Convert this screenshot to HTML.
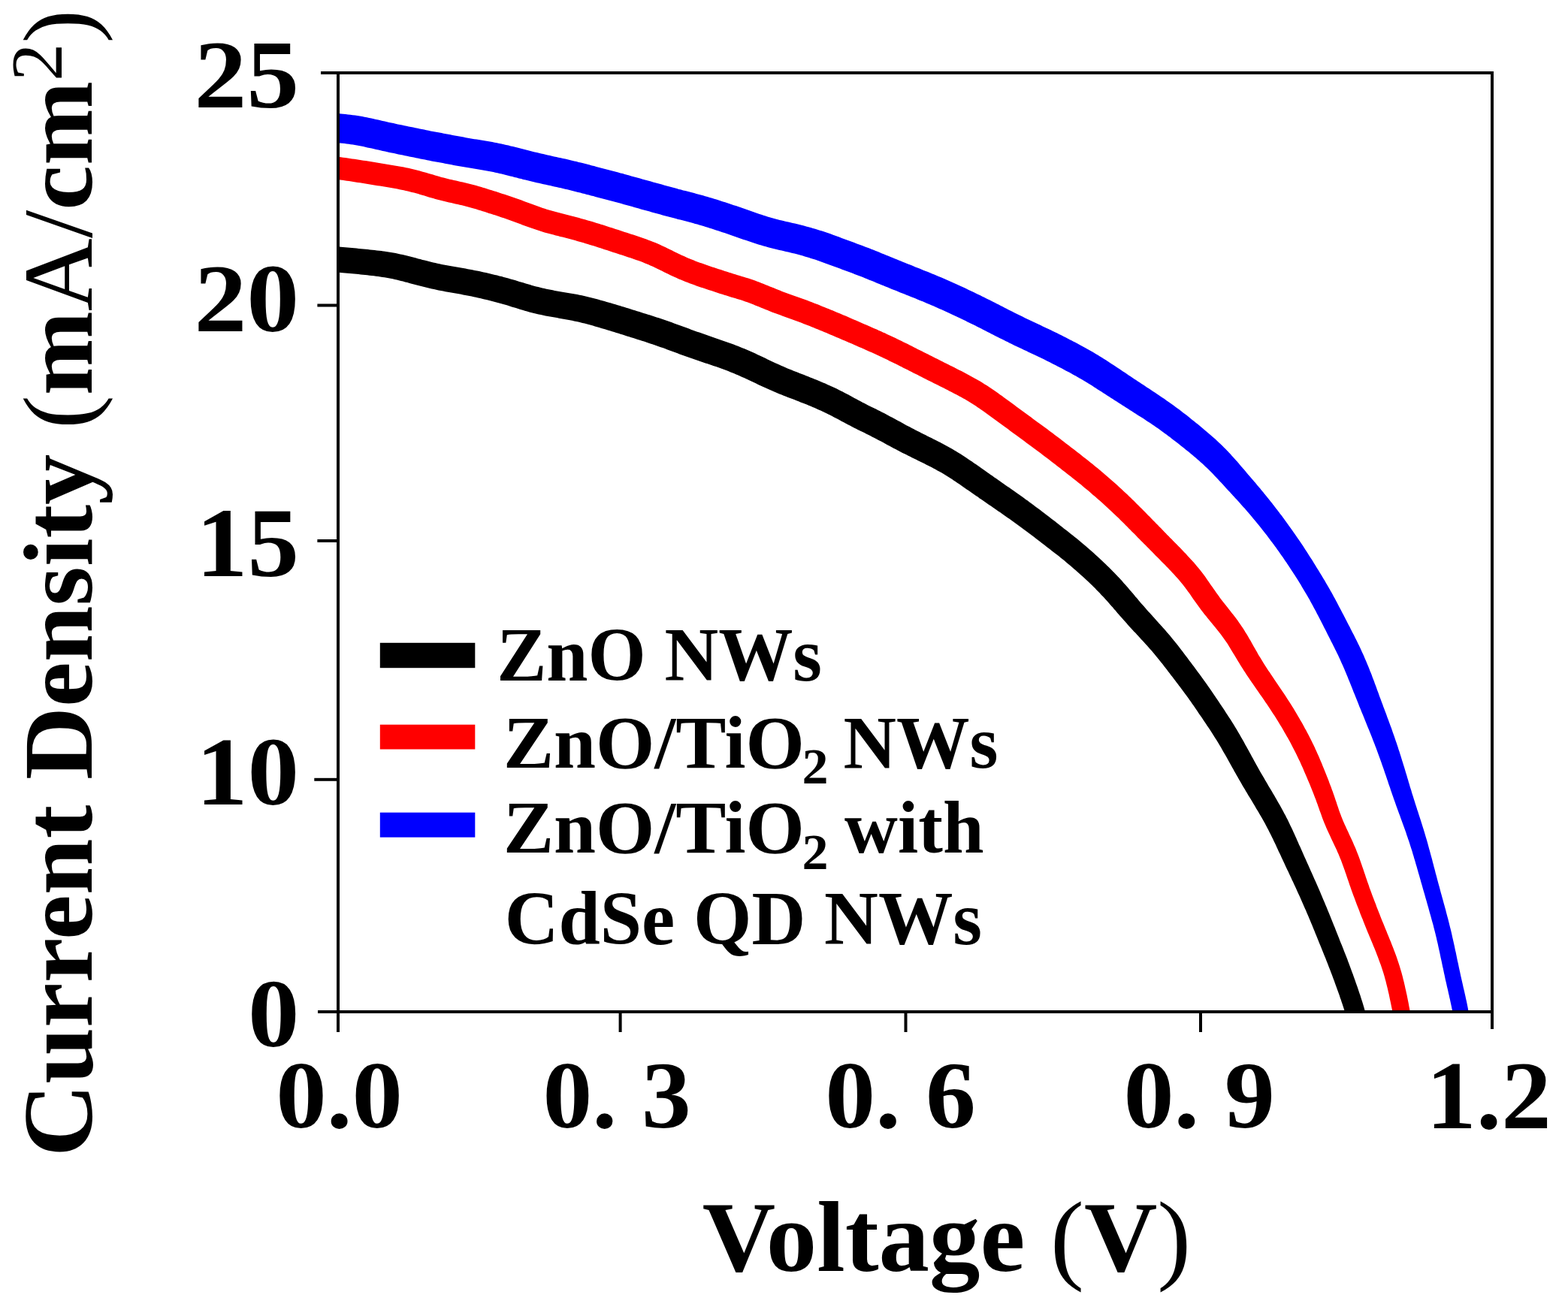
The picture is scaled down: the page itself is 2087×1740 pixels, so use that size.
<!DOCTYPE html>
<html><head><meta charset="utf-8"><style>
html,body{margin:0;padding:0;background:#fff;}
body{width:2087px;height:1740px;overflow:hidden;}
svg{display:block;font-family:"Liberation Serif","Times New Roman",serif;}
</style></head><body>
<svg width="2087" height="1740" viewBox="0 0 2087 1740">
<rect width="2087" height="1740" fill="#fff"/>
<rect x="448" y="95" width="4" height="1279" fill="#000"/>
<rect x="1984" y="95" width="4" height="1275" fill="#000"/>
<rect x="427" y="95" width="1561" height="4" fill="#000"/>
<rect x="423" y="1345" width="1565" height="4" fill="#000"/>
<rect x="422.4" y="404.5" width="29.6" height="4" fill="#000"/>
<rect x="422.4" y="718.0" width="29.6" height="4" fill="#000"/>
<rect x="418.3" y="1035.8" width="33.7" height="4" fill="#000"/>
<rect x="823.6" y="1345" width="4" height="29" fill="#000"/>
<rect x="1203.5" y="1345" width="4" height="29" fill="#000"/>
<rect x="1596.0" y="1345" width="4" height="29" fill="#000"/>
<defs><clipPath id="pc"><rect x="452" y="99" width="1532" height="1246"/></clipPath></defs>
<g clip-path="url(#pc)">
<polygon points="423.7,360.4 426.7,360.7 429.7,360.9 432.6,361.2 435.6,361.4 438.6,361.6 441.6,361.9 444.5,362.1 447.5,362.4 450.5,362.6 453.4,362.9 456.4,363.2 459.3,363.4 462.3,363.7 465.3,364.0 468.2,364.3 471.2,364.5 474.2,364.8 477.1,365.1 480.1,365.4 483.0,365.7 486.0,366.0 488.9,366.3 491.8,366.7 494.8,367.0 497.6,367.3 500.5,367.7 503.3,368.1 506.2,368.4 509.0,368.9 511.7,369.3 514.5,369.8 517.2,370.3 519.9,370.8 522.7,371.3 525.4,371.9 528.1,372.6 530.9,373.2 533.6,373.9 536.4,374.6 539.2,375.4 542.1,376.1 545.0,376.9 547.8,377.7 550.8,378.5 553.7,379.2 556.6,380.0 559.6,380.8 562.6,381.5 565.6,382.3 568.6,383.0 571.6,383.7 574.6,384.4 577.6,385.1 580.7,385.7 583.7,386.4 586.8,387.0 589.8,387.6 592.8,388.2 595.9,388.7 598.9,389.3 601.9,389.8 604.8,390.3 607.8,390.8 610.7,391.3 613.6,391.8 616.4,392.4 619.3,392.9 622.1,393.4 624.9,394.0 627.7,394.6 630.5,395.2 633.3,395.8 636.2,396.4 639.0,397.1 641.8,397.7 644.7,398.4 647.5,399.1 650.4,399.8 653.2,400.5 656.0,401.2 658.8,402.0 661.6,402.7 664.4,403.4 667.1,404.2 669.9,405.0 672.7,405.8 675.4,406.6 678.2,407.5 681.0,408.4 683.9,409.2 686.7,410.1 689.6,411.0 692.6,411.9 695.5,412.8 698.5,413.7 701.5,414.5 704.5,415.4 707.6,416.2 710.7,417.0 713.8,417.7 716.8,418.4 719.9,419.1 723.0,419.8 726.1,420.4 729.1,421.0 732.2,421.5 735.2,422.1 738.2,422.6 741.2,423.1 744.2,423.7 747.1,424.2 750.0,424.7 752.9,425.2 755.8,425.7 758.6,426.2 761.4,426.8 764.2,427.4 767.0,428.0 769.7,428.6 772.5,429.2 775.2,429.9 778.0,430.6 780.7,431.3 783.5,432.0 786.3,432.8 789.1,433.6 791.9,434.4 794.7,435.2 797.5,436.0 800.4,436.9 803.2,437.7 806.0,438.6 808.9,439.4 811.7,440.3 814.6,441.2 817.4,442.0 820.2,442.9 823.1,443.8 825.9,444.7 828.7,445.6 831.6,446.5 834.4,447.4 837.3,448.3 840.1,449.2 843.0,450.1 845.9,451.0 848.7,451.9 851.5,452.8 854.4,453.7 857.2,454.6 860.0,455.5 862.8,456.5 865.6,457.4 868.3,458.3 871.1,459.3 873.9,460.2 876.6,461.2 879.4,462.2 882.1,463.1 884.9,464.1 887.7,465.2 890.5,466.2 893.3,467.2 896.1,468.3 898.9,469.3 901.7,470.3 904.5,471.4 907.4,472.4 910.3,473.5 913.1,474.5 916.0,475.5 918.9,476.5 921.8,477.5 924.6,478.5 927.5,479.5 930.4,480.5 933.2,481.4 936.1,482.4 938.9,483.4 941.8,484.3 944.6,485.3 947.4,486.2 950.1,487.2 952.9,488.1 955.7,489.1 958.4,490.1 961.1,491.1 963.9,492.1 966.6,493.1 969.2,494.1 971.9,495.2 974.6,496.3 977.2,497.3 979.9,498.4 982.5,499.6 985.1,500.7 987.8,501.9 990.4,503.1 993.0,504.3 995.7,505.5 998.3,506.7 1001.0,508.0 1003.7,509.3 1006.4,510.6 1009.1,511.9 1011.9,513.2 1014.7,514.5 1017.5,515.8 1020.3,517.0 1023.1,518.3 1026.0,519.6 1028.8,520.8 1031.7,522.0 1034.5,523.2 1037.4,524.4 1040.3,525.5 1043.1,526.7 1045.9,527.8 1048.8,528.9 1051.6,530.0 1054.4,531.1 1057.2,532.1 1060.0,533.2 1062.8,534.3 1065.5,535.4 1068.3,536.5 1071.0,537.5 1073.7,538.6 1076.4,539.7 1079.1,540.8 1081.7,542.0 1084.4,543.1 1087.0,544.2 1089.6,545.4 1092.2,546.6 1094.8,547.8 1097.4,549.0 1100.0,550.2 1102.5,551.5 1105.1,552.7 1107.6,554.1 1110.1,555.4 1112.7,556.7 1115.3,558.1 1117.9,559.5 1120.5,560.9 1123.1,562.3 1125.8,563.8 1128.5,565.2 1131.2,566.6 1133.9,568.0 1136.7,569.4 1139.4,570.8 1142.1,572.2 1144.8,573.5 1147.5,574.8 1150.2,576.1 1152.9,577.4 1155.5,578.7 1158.1,580.1 1160.7,581.4 1163.3,582.7 1165.8,584.0 1168.4,585.4 1171.0,586.7 1173.6,588.1 1176.2,589.5 1178.8,590.9 1181.4,592.4 1184.1,593.8 1186.7,595.3 1189.4,596.7 1192.1,598.1 1194.8,599.5 1197.6,601.0 1200.3,602.4 1203.0,603.8 1205.8,605.1 1208.5,606.5 1211.2,607.8 1213.9,609.2 1216.6,610.5 1219.3,611.8 1222.0,613.2 1224.7,614.5 1227.3,615.8 1230.0,617.1 1232.6,618.4 1235.2,619.7 1237.8,621.0 1240.3,622.3 1242.9,623.7 1245.4,625.0 1247.8,626.4 1250.3,627.7 1252.7,629.1 1255.2,630.6 1257.6,632.0 1260.0,633.5 1262.4,635.0 1264.8,636.6 1267.2,638.1 1269.6,639.7 1272.0,641.3 1274.4,643.0 1276.9,644.6 1279.3,646.3 1281.7,648.0 1284.2,649.7 1286.7,651.4 1289.1,653.1 1291.6,654.8 1294.0,656.5 1296.5,658.2 1299.0,659.9 1301.5,661.6 1303.9,663.4 1306.4,665.1 1308.9,666.8 1311.4,668.5 1313.8,670.2 1316.3,671.9 1318.8,673.6 1321.2,675.3 1323.7,677.0 1326.2,678.7 1328.6,680.4 1331.1,682.1 1333.5,683.8 1335.9,685.5 1338.4,687.2 1340.8,688.9 1343.2,690.6 1345.6,692.3 1348.0,694.0 1350.4,695.7 1352.8,697.5 1355.2,699.2 1357.6,700.9 1360.0,702.7 1362.3,704.4 1364.7,706.2 1367.1,708.0 1369.4,709.7 1371.8,711.5 1374.1,713.3 1376.5,715.1 1378.9,717.0 1381.2,718.8 1383.6,720.6 1386.0,722.4 1388.4,724.2 1390.7,726.1 1393.1,727.9 1395.5,729.7 1397.8,731.5 1400.2,733.4 1402.5,735.2 1404.8,737.0 1407.2,738.8 1409.5,740.6 1411.7,742.5 1414.0,744.3 1416.3,746.1 1418.5,748.0 1420.8,749.9 1423.0,751.7 1425.2,753.6 1427.4,755.5 1429.6,757.4 1431.8,759.3 1434.0,761.3 1436.2,763.2 1438.4,765.2 1440.5,767.1 1442.7,769.1 1444.8,771.1 1447.0,773.1 1449.1,775.1 1451.2,777.1 1453.3,779.1 1455.3,781.1 1457.4,783.1 1459.4,785.2 1461.4,787.2 1463.5,789.3 1465.4,791.4 1467.4,793.5 1469.4,795.6 1471.3,797.7 1473.2,799.8 1475.2,802.0 1477.1,804.2 1479.0,806.4 1481.0,808.6 1482.9,810.9 1484.9,813.1 1486.8,815.4 1488.8,817.7 1490.8,820.0 1492.8,822.3 1494.8,824.6 1496.8,826.8 1498.9,829.1 1500.9,831.4 1502.9,833.7 1505.0,835.9 1507.1,838.2 1509.1,840.4 1511.2,842.6 1513.2,844.8 1515.3,847.0 1517.3,849.2 1519.3,851.4 1521.3,853.6 1523.3,855.8 1525.3,857.9 1527.2,860.1 1529.1,862.3 1531.1,864.4 1533.0,866.6 1534.8,868.8 1536.7,871.0 1538.5,873.2 1540.4,875.5 1542.2,877.7 1544.0,880.0 1545.8,882.3 1547.7,884.6 1549.5,886.9 1551.3,889.3 1553.1,891.6 1554.9,894.0 1556.7,896.3 1558.5,898.7 1560.4,901.1 1562.2,903.5 1564.0,905.8 1565.8,908.2 1567.6,910.6 1569.4,913.0 1571.2,915.3 1573.0,917.7 1574.7,920.0 1576.5,922.4 1578.2,924.8 1579.9,927.1 1581.7,929.5 1583.4,931.9 1585.1,934.3 1586.7,936.7 1588.4,939.1 1590.1,941.5 1591.8,944.0 1593.5,946.4 1595.1,948.9 1596.8,951.4 1598.5,953.8 1600.2,956.3 1601.8,958.8 1603.5,961.2 1605.2,963.7 1606.8,966.2 1608.4,968.6 1610.1,971.1 1611.7,973.5 1613.3,976.0 1614.9,978.4 1616.4,980.9 1618.0,983.4 1619.5,985.8 1621.0,988.3 1622.5,990.8 1624.0,993.3 1625.5,995.8 1627.0,998.4 1628.4,1000.9 1629.9,1003.5 1631.4,1006.0 1632.8,1008.6 1634.3,1011.2 1635.7,1013.8 1637.2,1016.4 1638.6,1019.0 1640.1,1021.7 1641.6,1024.3 1643.0,1026.9 1644.5,1029.6 1646.0,1032.2 1647.5,1034.8 1649.0,1037.5 1650.5,1040.1 1652.1,1042.8 1653.6,1045.4 1655.1,1048.0 1656.7,1050.6 1658.2,1053.2 1659.8,1055.8 1661.3,1058.4 1662.9,1061.0 1664.5,1063.6 1666.0,1066.1 1667.6,1068.7 1669.1,1071.3 1670.6,1073.8 1672.1,1076.4 1673.7,1078.9 1675.2,1081.4 1676.6,1084.0 1678.1,1086.5 1679.6,1089.0 1681.0,1091.6 1682.4,1094.1 1683.8,1096.6 1685.2,1099.2 1686.5,1101.7 1687.9,1104.3 1689.2,1106.9 1690.5,1109.4 1691.8,1112.0 1693.1,1114.7 1694.4,1117.3 1695.6,1119.9 1696.9,1122.6 1698.2,1125.3 1699.4,1128.0 1700.7,1130.7 1701.9,1133.4 1703.2,1136.1 1704.5,1138.8 1705.7,1141.5 1707.0,1144.3 1708.3,1147.0 1709.6,1149.7 1710.8,1152.5 1712.1,1155.2 1713.4,1157.9 1714.7,1160.6 1715.9,1163.3 1717.2,1166.0 1718.5,1168.7 1719.7,1171.4 1721.0,1174.1 1722.3,1176.9 1723.5,1179.6 1724.8,1182.3 1726.0,1185.0 1727.2,1187.7 1728.5,1190.4 1729.7,1193.1 1730.9,1195.8 1732.1,1198.5 1733.3,1201.2 1734.5,1204.0 1735.7,1206.7 1736.9,1209.4 1738.1,1212.1 1739.3,1214.9 1740.4,1217.6 1741.6,1220.3 1742.7,1223.1 1743.9,1225.8 1745.0,1228.6 1746.2,1231.3 1747.3,1234.1 1748.4,1236.8 1749.6,1239.6 1750.7,1242.4 1751.8,1245.1 1753.0,1247.9 1754.1,1250.7 1755.2,1253.5 1756.3,1256.2 1757.5,1259.0 1758.6,1261.8 1759.7,1264.6 1760.8,1267.3 1761.9,1270.1 1763.1,1272.9 1764.2,1275.6 1765.3,1278.4 1766.4,1281.2 1767.5,1283.9 1768.5,1286.7 1769.6,1289.5 1770.7,1292.2 1771.7,1295.0 1772.8,1297.8 1773.8,1300.5 1774.8,1303.3 1775.9,1306.1 1776.9,1308.9 1777.9,1311.7 1778.9,1314.4 1779.9,1317.2 1780.9,1320.0 1781.9,1322.8 1782.9,1325.6 1783.8,1328.4 1784.8,1331.1 1785.7,1333.9 1786.6,1336.6 1787.5,1339.3 1788.4,1341.9 1789.2,1344.6 1790.0,1347.2 1790.8,1349.8 1791.5,1352.4 1792.2,1355.0 1792.8,1357.5 1793.5,1360.1 1794.1,1362.7 1794.7,1365.3 1795.3,1367.9 1820.7,1362.1 1820.1,1359.4 1819.4,1356.7 1818.8,1353.9 1818.1,1351.2 1817.4,1348.4 1816.7,1345.6 1815.9,1342.7 1815.1,1339.9 1814.2,1337.0 1813.3,1334.1 1812.4,1331.3 1811.5,1328.4 1810.6,1325.5 1809.6,1322.7 1808.6,1319.8 1807.7,1317.0 1806.7,1314.1 1805.7,1311.3 1804.7,1308.5 1803.7,1305.6 1802.7,1302.8 1801.7,1299.9 1800.7,1297.1 1799.6,1294.2 1798.6,1291.4 1797.5,1288.5 1796.5,1285.7 1795.4,1282.8 1794.3,1280.0 1793.3,1277.1 1792.2,1274.3 1791.1,1271.5 1790.0,1268.7 1788.9,1265.9 1787.8,1263.1 1786.7,1260.3 1785.6,1257.5 1784.4,1254.7 1783.3,1251.9 1782.2,1249.1 1781.1,1246.3 1780.0,1243.5 1778.9,1240.7 1777.8,1237.9 1776.7,1235.1 1775.5,1232.3 1774.4,1229.5 1773.3,1226.7 1772.2,1223.9 1771.0,1221.1 1769.9,1218.3 1768.8,1215.5 1767.6,1212.7 1766.5,1209.9 1765.3,1207.1 1764.2,1204.4 1763.0,1201.6 1761.8,1198.8 1760.6,1196.0 1759.5,1193.2 1758.3,1190.4 1757.1,1187.6 1755.9,1184.8 1754.7,1182.1 1753.5,1179.3 1752.3,1176.5 1751.1,1173.7 1749.8,1171.0 1748.6,1168.2 1747.4,1165.4 1746.2,1162.7 1744.9,1159.9 1743.7,1157.2 1742.5,1154.4 1741.3,1151.7 1740.0,1149.0 1738.8,1146.2 1737.6,1143.5 1736.3,1140.8 1735.1,1138.0 1733.9,1135.3 1732.7,1132.6 1731.5,1129.8 1730.3,1127.1 1729.0,1124.4 1727.8,1121.6 1726.6,1118.9 1725.4,1116.1 1724.1,1113.3 1722.9,1110.6 1721.6,1107.8 1720.4,1105.0 1719.1,1102.2 1717.7,1099.5 1716.4,1096.7 1715.1,1093.9 1713.7,1091.1 1712.3,1088.4 1710.9,1085.6 1709.4,1082.9 1707.9,1080.1 1706.5,1077.4 1705.0,1074.7 1703.5,1072.0 1702.0,1069.4 1700.4,1066.7 1698.9,1064.1 1697.4,1061.5 1695.9,1058.8 1694.3,1056.2 1692.8,1053.6 1691.3,1051.1 1689.7,1048.5 1688.2,1045.9 1686.7,1043.3 1685.2,1040.8 1683.7,1038.2 1682.2,1035.6 1680.7,1033.1 1679.2,1030.5 1677.7,1028.0 1676.3,1025.4 1674.8,1022.8 1673.4,1020.2 1672.0,1017.7 1670.5,1015.1 1669.1,1012.5 1667.7,1009.8 1666.2,1007.2 1664.8,1004.6 1663.4,1002.0 1661.9,999.3 1660.5,996.7 1659.0,994.0 1657.5,991.4 1656.1,988.7 1654.6,986.0 1653.1,983.4 1651.5,980.7 1650.0,978.1 1648.5,975.4 1646.9,972.8 1645.3,970.1 1643.7,967.5 1642.1,964.8 1640.5,962.2 1638.8,959.6 1637.2,957.0 1635.5,954.5 1633.9,951.9 1632.2,949.4 1630.5,946.8 1628.9,944.3 1627.2,941.8 1625.5,939.3 1623.8,936.8 1622.2,934.3 1620.5,931.8 1618.8,929.3 1617.1,926.7 1615.4,924.2 1613.7,921.7 1612.0,919.2 1610.3,916.7 1608.5,914.2 1606.8,911.7 1605.0,909.2 1603.2,906.7 1601.4,904.2 1599.6,901.7 1597.8,899.2 1596.0,896.8 1594.2,894.4 1592.4,891.9 1590.6,889.5 1588.8,887.1 1587.0,884.7 1585.2,882.3 1583.4,879.9 1581.6,877.5 1579.8,875.1 1578.0,872.7 1576.1,870.2 1574.3,867.8 1572.5,865.4 1570.6,863.0 1568.7,860.5 1566.8,858.1 1564.9,855.7 1562.9,853.3 1561.0,850.9 1559.0,848.5 1557.0,846.1 1555.0,843.7 1553.0,841.4 1551.0,839.1 1548.9,836.8 1546.9,834.5 1544.9,832.2 1542.8,829.9 1540.8,827.7 1538.8,825.5 1536.8,823.3 1534.8,821.0 1532.8,818.8 1530.8,816.6 1528.8,814.4 1526.8,812.2 1524.9,810.0 1523.0,807.8 1521.0,805.6 1519.1,803.4 1517.2,801.2 1515.3,798.9 1513.4,796.6 1511.4,794.4 1509.5,792.1 1507.6,789.8 1505.6,787.5 1503.6,785.2 1501.6,782.8 1499.6,780.5 1497.6,778.2 1495.5,775.9 1493.5,773.6 1491.4,771.3 1489.3,769.0 1487.1,766.7 1485.0,764.4 1482.8,762.2 1480.6,760.0 1478.4,757.8 1476.2,755.6 1474.0,753.4 1471.8,751.3 1469.6,749.2 1467.3,747.0 1465.1,744.9 1462.8,742.8 1460.6,740.8 1458.3,738.7 1456.0,736.6 1453.7,734.6 1451.4,732.5 1449.1,730.5 1446.8,728.5 1444.5,726.5 1442.1,724.5 1439.7,722.5 1437.4,720.5 1435.0,718.6 1432.6,716.6 1430.2,714.7 1427.9,712.8 1425.5,710.9 1423.1,709.0 1420.7,707.1 1418.3,705.2 1415.9,703.4 1413.6,701.5 1411.2,699.7 1408.8,697.8 1406.5,696.0 1404.1,694.1 1401.7,692.3 1399.3,690.4 1396.9,688.6 1394.6,686.7 1392.2,684.9 1389.7,683.0 1387.3,681.2 1384.9,679.3 1382.5,677.5 1380.0,675.7 1377.6,673.9 1375.1,672.0 1372.7,670.2 1370.2,668.4 1367.8,666.6 1365.3,664.9 1362.8,663.1 1360.4,661.3 1357.9,659.6 1355.4,657.8 1352.9,656.1 1350.5,654.3 1348.0,652.6 1345.5,650.8 1343.1,649.1 1340.6,647.4 1338.1,645.7 1335.7,643.9 1333.2,642.2 1330.8,640.5 1328.3,638.8 1325.9,637.1 1323.4,635.4 1320.9,633.6 1318.5,631.9 1316.1,630.2 1313.6,628.5 1311.2,626.8 1308.7,625.0 1306.2,623.3 1303.8,621.6 1301.3,619.8 1298.8,618.1 1296.3,616.4 1293.8,614.6 1291.3,612.9 1288.7,611.2 1286.2,609.4 1283.6,607.7 1280.9,606.0 1278.3,604.3 1275.6,602.7 1272.9,601.0 1270.2,599.4 1267.5,597.8 1264.7,596.2 1262.0,594.7 1259.2,593.2 1256.5,591.7 1253.7,590.3 1251.0,588.8 1248.3,587.4 1245.5,586.1 1242.8,584.7 1240.1,583.3 1237.4,582.0 1234.7,580.7 1232.1,579.3 1229.4,578.0 1226.8,576.7 1224.1,575.3 1221.5,574.0 1218.9,572.7 1216.3,571.3 1213.7,570.0 1211.1,568.6 1208.5,567.2 1205.9,565.9 1203.4,564.5 1200.8,563.0 1198.2,561.6 1195.5,560.2 1192.9,558.7 1190.2,557.3 1187.5,555.8 1184.8,554.4 1182.1,552.9 1179.4,551.5 1176.7,550.1 1173.9,548.7 1171.2,547.3 1168.5,546.0 1165.8,544.6 1163.1,543.3 1160.4,542.0 1157.8,540.7 1155.2,539.4 1152.6,538.1 1150.1,536.8 1147.5,535.4 1145.0,534.1 1142.4,532.7 1139.8,531.3 1137.2,529.9 1134.6,528.5 1131.9,527.0 1129.3,525.6 1126.6,524.2 1123.8,522.7 1121.1,521.3 1118.3,519.9 1115.5,518.5 1112.7,517.1 1109.8,515.8 1107.0,514.5 1104.2,513.2 1101.3,511.9 1098.4,510.6 1095.6,509.4 1092.7,508.2 1089.9,507.0 1087.0,505.8 1084.2,504.7 1081.3,503.5 1078.5,502.4 1075.7,501.3 1072.9,500.2 1070.1,499.1 1067.3,498.0 1064.5,496.9 1061.7,495.8 1059.0,494.8 1056.2,493.7 1053.5,492.6 1050.8,491.5 1048.1,490.4 1045.5,489.3 1042.8,488.1 1040.2,487.0 1037.6,485.8 1034.9,484.6 1032.3,483.4 1029.7,482.2 1027.0,481.0 1024.4,479.7 1021.7,478.4 1019.0,477.1 1016.3,475.8 1013.6,474.5 1010.8,473.2 1008.0,471.9 1005.2,470.6 1002.4,469.3 999.5,468.0 996.7,466.8 993.8,465.6 990.9,464.3 988.0,463.2 985.1,462.0 982.2,460.8 979.3,459.7 976.4,458.6 973.5,457.5 970.6,456.5 967.7,455.4 964.8,454.4 961.9,453.4 959.0,452.4 956.2,451.4 953.3,450.4 950.5,449.4 947.6,448.4 944.8,447.5 942.0,446.5 939.2,445.6 936.4,444.6 933.6,443.6 930.8,442.6 928.0,441.7 925.2,440.7 922.5,439.7 919.7,438.7 916.9,437.6 914.1,436.6 911.3,435.6 908.5,434.5 905.7,433.5 902.9,432.5 900.0,431.4 897.2,430.4 894.3,429.3 891.4,428.3 888.5,427.3 885.6,426.3 882.7,425.3 879.8,424.3 876.9,423.3 874.0,422.4 871.1,421.5 868.2,420.5 865.3,419.6 862.4,418.7 859.5,417.8 856.6,416.9 853.8,416.0 850.9,415.1 848.0,414.2 845.2,413.3 842.3,412.4 839.4,411.5 836.5,410.6 833.6,409.7 830.8,408.8 827.9,407.9 825.0,407.1 822.1,406.2 819.2,405.3 816.3,404.5 813.3,403.6 810.4,402.7 807.5,401.9 804.6,401.0 801.6,400.2 798.7,399.4 795.7,398.5 792.7,397.7 789.7,396.9 786.7,396.2 783.6,395.4 780.6,394.7 777.5,394.0 774.4,393.3 771.3,392.7 768.3,392.1 765.2,391.5 762.2,390.9 759.1,390.4 756.1,389.9 753.1,389.4 750.1,388.9 747.2,388.4 744.3,387.9 741.4,387.4 738.5,386.9 735.7,386.3 732.9,385.8 730.1,385.2 727.3,384.7 724.5,384.1 721.8,383.5 719.1,382.8 716.3,382.1 713.6,381.4 710.9,380.7 708.1,379.9 705.4,379.1 702.6,378.3 699.8,377.5 697.0,376.6 694.2,375.7 691.3,374.9 688.4,374.0 685.5,373.1 682.5,372.2 679.6,371.4 676.6,370.5 673.6,369.7 670.6,368.9 667.6,368.1 664.6,367.4 661.7,366.6 658.7,365.9 655.7,365.2 652.8,364.5 649.8,363.8 646.8,363.1 643.8,362.4 640.8,361.8 637.8,361.1 634.8,360.5 631.7,359.9 628.7,359.3 625.7,358.7 622.6,358.2 619.6,357.6 616.6,357.1 613.6,356.6 610.7,356.1 607.8,355.6 604.9,355.1 602.0,354.6 599.1,354.1 596.3,353.6 593.5,353.0 590.7,352.5 587.8,351.9 585.0,351.3 582.2,350.7 579.4,350.0 576.6,349.4 573.7,348.7 570.9,348.0 568.1,347.3 565.2,346.6 562.4,345.9 559.5,345.1 556.7,344.4 553.8,343.6 550.9,342.8 547.9,342.1 545.0,341.3 542.0,340.6 538.9,339.8 535.9,339.1 532.8,338.4 529.7,337.7 526.6,337.1 523.5,336.5 520.3,336.0 517.2,335.5 514.1,335.0 510.9,334.5 507.8,334.1 504.7,333.7 501.7,333.4 498.6,333.0 495.6,332.7 492.5,332.4 489.5,332.1 486.5,331.8 483.5,331.5 480.5,331.2 477.5,330.9 474.4,330.6 471.4,330.3 468.4,330.0 465.4,329.8 462.4,329.5 459.4,329.2 456.4,329.0 453.4,328.7 450.4,328.5 447.3,328.2 444.3,328.0 441.3,327.7 438.3,327.5 435.3,327.3 432.3,327.0 429.3,326.8 426.3,326.6" fill="#000"/>
<polygon points="423.0,235.4 426.0,235.8 429.0,236.2 431.9,236.6 434.9,237.0 437.9,237.4 440.8,237.8 443.8,238.2 446.7,238.6 449.7,239.0 452.6,239.4 455.6,239.8 458.5,240.2 461.5,240.7 464.4,241.1 467.4,241.5 470.3,242.0 473.2,242.4 476.2,242.9 479.1,243.3 482.1,243.8 485.0,244.3 487.9,244.7 490.9,245.2 493.8,245.7 496.8,246.2 499.7,246.7 502.7,247.2 505.6,247.6 508.6,248.1 511.5,248.6 514.5,249.1 517.4,249.6 520.3,250.1 523.2,250.6 526.1,251.1 528.9,251.6 531.8,252.2 534.5,252.7 537.3,253.3 540.1,253.9 542.8,254.5 545.5,255.2 548.2,255.9 551.0,256.6 553.7,257.3 556.5,258.1 559.2,259.0 562.0,259.8 564.9,260.6 567.8,261.5 570.7,262.4 573.6,263.2 576.6,264.1 579.5,264.9 582.5,265.7 585.6,266.5 588.6,267.3 591.6,268.0 594.6,268.7 597.5,269.4 600.5,270.1 603.4,270.7 606.3,271.4 609.2,272.0 612.0,272.7 614.8,273.3 617.6,274.0 620.3,274.7 623.1,275.4 625.8,276.2 628.5,277.0 631.3,277.8 634.1,278.6 636.8,279.5 639.6,280.3 642.5,281.2 645.3,282.1 648.1,283.0 650.9,283.9 653.8,284.8 656.6,285.7 659.4,286.6 662.2,287.5 665.0,288.4 667.8,289.4 670.5,290.3 673.3,291.2 676.0,292.2 678.8,293.2 681.5,294.2 684.3,295.2 687.0,296.2 689.8,297.3 692.6,298.3 695.4,299.4 698.3,300.5 701.1,301.5 704.0,302.6 706.9,303.6 709.9,304.6 712.8,305.6 715.8,306.6 718.8,307.6 721.8,308.5 724.8,309.4 727.8,310.2 730.8,311.0 733.7,311.8 736.7,312.6 739.7,313.4 742.6,314.1 745.5,314.9 748.4,315.6 751.3,316.3 754.1,317.1 757.0,317.8 759.8,318.6 762.7,319.3 765.5,320.1 768.3,320.9 771.1,321.7 774.0,322.5 776.8,323.3 779.6,324.2 782.4,325.0 785.2,325.9 788.0,326.7 790.8,327.6 793.7,328.5 796.5,329.4 799.3,330.3 802.1,331.2 804.9,332.2 807.8,333.1 810.6,334.0 813.5,335.0 816.3,335.9 819.2,336.8 822.0,337.8 824.9,338.7 827.7,339.6 830.6,340.6 833.4,341.5 836.2,342.4 839.0,343.3 841.8,344.3 844.5,345.2 847.2,346.2 849.9,347.1 852.6,348.1 855.3,349.1 857.9,350.2 860.5,351.2 863.1,352.3 865.6,353.4 868.2,354.6 870.8,355.8 873.3,357.0 875.9,358.2 878.5,359.5 881.2,360.8 883.9,362.2 886.6,363.5 889.3,364.8 892.1,366.2 894.9,367.5 897.7,368.8 900.6,370.1 903.5,371.4 906.4,372.6 909.3,373.8 912.2,375.0 915.1,376.1 918.0,377.2 921.0,378.3 923.9,379.3 926.8,380.4 929.7,381.4 932.6,382.4 935.4,383.3 938.3,384.3 941.1,385.2 944.0,386.2 946.9,387.1 949.7,388.1 952.6,389.0 955.5,390.0 958.4,390.9 961.3,391.8 964.1,392.7 967.0,393.6 969.9,394.5 972.8,395.4 975.6,396.2 978.5,397.1 981.2,397.9 984.0,398.8 986.7,399.6 989.4,400.5 992.0,401.4 994.6,402.3 997.2,403.3 999.8,404.3 1002.5,405.3 1005.1,406.4 1007.8,407.5 1010.5,408.6 1013.2,409.7 1016.0,410.8 1018.8,412.0 1021.6,413.1 1024.5,414.3 1027.3,415.4 1030.2,416.5 1033.1,417.5 1035.9,418.6 1038.8,419.6 1041.7,420.7 1044.5,421.7 1047.3,422.7 1050.1,423.7 1052.9,424.7 1055.7,425.7 1058.4,426.7 1061.2,427.8 1064.0,428.8 1066.7,429.8 1069.5,430.9 1072.2,431.9 1074.9,433.0 1077.7,434.1 1080.4,435.2 1083.2,436.3 1085.9,437.4 1088.7,438.5 1091.4,439.7 1094.2,440.8 1096.9,441.9 1099.7,443.1 1102.4,444.2 1105.1,445.4 1107.9,446.5 1110.6,447.7 1113.4,448.9 1116.1,450.0 1118.8,451.2 1121.6,452.4 1124.3,453.6 1127.1,454.8 1129.8,455.9 1132.5,457.1 1135.3,458.3 1138.0,459.5 1140.8,460.7 1143.5,461.9 1146.2,463.1 1149.0,464.3 1151.7,465.5 1154.4,466.7 1157.1,467.9 1159.8,469.1 1162.5,470.3 1165.2,471.6 1167.9,472.8 1170.5,474.0 1173.2,475.3 1175.8,476.5 1178.5,477.8 1181.2,479.1 1183.8,480.4 1186.5,481.7 1189.1,483.0 1191.8,484.3 1194.4,485.6 1197.1,487.0 1199.8,488.3 1202.4,489.7 1205.1,491.0 1207.8,492.3 1210.5,493.7 1213.1,495.0 1215.8,496.4 1218.5,497.8 1221.2,499.1 1223.9,500.5 1226.5,501.8 1229.2,503.2 1231.9,504.5 1234.6,505.9 1237.3,507.2 1240.0,508.6 1242.6,509.9 1245.3,511.3 1248.0,512.6 1250.7,513.9 1253.3,515.3 1256.0,516.6 1258.7,518.0 1261.3,519.3 1263.9,520.7 1266.6,522.0 1269.2,523.4 1271.8,524.7 1274.3,526.1 1276.9,527.5 1279.4,528.8 1281.9,530.2 1284.4,531.6 1286.8,533.1 1289.3,534.5 1291.7,536.0 1294.1,537.5 1296.5,539.0 1298.9,540.6 1301.2,542.2 1303.6,543.8 1306.0,545.4 1308.3,547.1 1310.7,548.8 1313.1,550.5 1315.5,552.2 1317.9,553.9 1320.3,555.7 1322.7,557.4 1325.1,559.2 1327.5,561.0 1329.9,562.7 1332.3,564.5 1334.7,566.3 1337.1,568.1 1339.6,569.8 1342.0,571.6 1344.4,573.4 1346.8,575.2 1349.2,577.0 1351.7,578.7 1354.1,580.5 1356.5,582.3 1358.9,584.1 1361.3,585.8 1363.7,587.6 1366.1,589.4 1368.6,591.2 1371.0,592.9 1373.4,594.7 1375.7,596.5 1378.1,598.3 1380.5,600.0 1382.9,601.8 1385.3,603.6 1387.7,605.4 1390.0,607.2 1392.4,609.0 1394.8,610.8 1397.1,612.6 1399.5,614.4 1401.8,616.2 1404.2,618.0 1406.6,619.9 1408.9,621.7 1411.3,623.5 1413.6,625.4 1416.0,627.2 1418.3,629.0 1420.7,630.9 1423.0,632.7 1425.4,634.5 1427.7,636.4 1430.0,638.2 1432.3,640.1 1434.6,641.9 1436.9,643.8 1439.2,645.6 1441.4,647.5 1443.7,649.4 1446.0,651.2 1448.2,653.1 1450.5,655.0 1452.7,656.9 1454.9,658.9 1457.2,660.8 1459.4,662.7 1461.6,664.7 1463.8,666.6 1466.0,668.6 1468.2,670.5 1470.4,672.5 1472.5,674.5 1474.7,676.4 1476.8,678.4 1479.0,680.4 1481.1,682.4 1483.2,684.5 1485.3,686.5 1487.5,688.6 1489.6,690.6 1491.7,692.7 1493.8,694.8 1495.9,696.8 1498.0,698.9 1500.1,701.0 1502.2,703.2 1504.3,705.3 1506.4,707.4 1508.5,709.5 1510.6,711.6 1512.7,713.8 1514.8,715.9 1516.9,718.0 1519.0,720.2 1521.1,722.3 1523.3,724.4 1525.4,726.6 1527.5,728.7 1529.6,730.8 1531.7,733.0 1533.8,735.1 1535.9,737.2 1538.0,739.4 1540.1,741.5 1542.2,743.6 1544.3,745.8 1546.4,747.9 1548.5,750.0 1550.6,752.1 1552.6,754.2 1554.7,756.3 1556.7,758.4 1558.7,760.6 1560.7,762.7 1562.7,764.8 1564.6,766.9 1566.5,769.0 1568.3,771.1 1570.2,773.3 1572.0,775.4 1573.7,777.6 1575.5,779.8 1577.2,782.0 1578.9,784.2 1580.5,786.5 1582.2,788.8 1583.9,791.1 1585.5,793.5 1587.2,795.9 1588.9,798.4 1590.6,800.8 1592.4,803.3 1594.2,805.8 1596.0,808.3 1597.8,810.8 1599.7,813.3 1601.6,815.8 1603.5,818.2 1605.5,820.6 1607.4,823.0 1609.3,825.3 1611.3,827.7 1613.2,829.9 1615.0,832.2 1616.9,834.5 1618.7,836.7 1620.5,839.0 1622.3,841.2 1624.1,843.4 1625.8,845.7 1627.4,847.9 1629.0,850.2 1630.6,852.5 1632.2,854.8 1633.8,857.1 1635.3,859.5 1636.8,861.9 1638.3,864.4 1639.8,866.9 1641.3,869.4 1642.9,871.9 1644.4,874.5 1645.9,877.1 1647.5,879.7 1649.1,882.3 1650.7,884.9 1652.3,887.5 1653.9,890.1 1655.6,892.7 1657.3,895.3 1659.0,897.9 1660.7,900.5 1662.4,903.0 1664.1,905.6 1665.8,908.1 1667.6,910.6 1669.3,913.1 1671.0,915.5 1672.7,918.0 1674.5,920.5 1676.2,922.9 1677.9,925.4 1679.6,927.8 1681.3,930.3 1683.0,932.7 1684.6,935.2 1686.3,937.6 1687.9,940.0 1689.6,942.5 1691.2,944.9 1692.8,947.4 1694.4,949.9 1696.0,952.3 1697.6,954.8 1699.1,957.3 1700.7,959.8 1702.2,962.3 1703.7,964.8 1705.3,967.3 1706.8,969.8 1708.2,972.3 1709.7,974.9 1711.2,977.4 1712.6,980.0 1714.1,982.5 1715.5,985.1 1716.9,987.6 1718.3,990.2 1719.6,992.8 1721.0,995.4 1722.3,997.9 1723.6,1000.5 1724.9,1003.1 1726.2,1005.8 1727.5,1008.4 1728.7,1011.0 1730.0,1013.6 1731.2,1016.3 1732.4,1019.0 1733.6,1021.6 1734.8,1024.3 1735.9,1027.0 1737.1,1029.7 1738.3,1032.4 1739.4,1035.1 1740.6,1037.9 1741.7,1040.6 1742.9,1043.3 1744.0,1046.1 1745.1,1048.8 1746.2,1051.5 1747.3,1054.3 1748.4,1057.0 1749.4,1059.7 1750.5,1062.4 1751.5,1065.1 1752.5,1067.9 1753.5,1070.6 1754.5,1073.4 1755.5,1076.2 1756.4,1079.0 1757.5,1081.8 1758.5,1084.6 1759.5,1087.5 1760.6,1090.4 1761.7,1093.3 1762.9,1096.2 1764.1,1099.0 1765.3,1101.9 1766.5,1104.7 1767.8,1107.5 1769.1,1110.3 1770.4,1113.1 1771.6,1115.8 1772.9,1118.5 1774.2,1121.2 1775.5,1123.9 1776.7,1126.5 1778.0,1129.2 1779.2,1131.8 1780.3,1134.5 1781.5,1137.1 1782.6,1139.8 1783.7,1142.4 1784.8,1145.1 1785.8,1147.8 1786.8,1150.5 1787.8,1153.2 1788.8,1155.9 1789.8,1158.7 1790.7,1161.5 1791.7,1164.3 1792.6,1167.1 1793.6,1169.9 1794.6,1172.7 1795.5,1175.6 1796.5,1178.5 1797.5,1181.3 1798.5,1184.2 1799.5,1187.1 1800.6,1189.9 1801.6,1192.8 1802.7,1195.6 1803.8,1198.5 1804.8,1201.3 1805.9,1204.2 1807.0,1207.0 1808.1,1209.8 1809.2,1212.6 1810.2,1215.4 1811.3,1218.2 1812.4,1221.0 1813.6,1223.8 1814.7,1226.7 1815.8,1229.5 1816.9,1232.3 1818.0,1235.1 1819.2,1237.9 1820.3,1240.7 1821.5,1243.5 1822.6,1246.3 1823.8,1249.0 1824.9,1251.8 1826.1,1254.6 1827.2,1257.3 1828.3,1260.1 1829.5,1262.8 1830.6,1265.5 1831.7,1268.3 1832.7,1271.0 1833.8,1273.7 1834.8,1276.4 1835.8,1279.2 1836.8,1281.9 1837.8,1284.6 1838.7,1287.3 1839.6,1290.1 1840.5,1292.8 1841.4,1295.5 1842.2,1298.3 1843.0,1301.1 1843.7,1303.8 1844.5,1306.6 1845.2,1309.4 1845.9,1312.2 1846.6,1315.1 1847.3,1317.9 1847.9,1320.8 1848.6,1323.6 1849.2,1326.5 1849.8,1329.4 1850.4,1332.2 1851.0,1335.1 1851.6,1338.0 1852.2,1340.9 1852.8,1343.7 1853.3,1346.6 1853.8,1349.4 1854.3,1352.3 1854.8,1355.1 1855.3,1358.0 1855.7,1360.9 1856.2,1363.8 1856.6,1366.7 1879.4,1363.3 1878.9,1360.3 1878.5,1357.4 1878.0,1354.4 1877.5,1351.4 1877.0,1348.4 1876.5,1345.4 1876.0,1342.4 1875.4,1339.4 1874.9,1336.4 1874.3,1333.5 1873.7,1330.5 1873.1,1327.5 1872.5,1324.5 1871.8,1321.6 1871.2,1318.6 1870.5,1315.7 1869.9,1312.7 1869.2,1309.7 1868.5,1306.7 1867.7,1303.7 1867.0,1300.8 1866.2,1297.8 1865.4,1294.8 1864.5,1291.8 1863.6,1288.8 1862.7,1285.8 1861.8,1282.9 1860.8,1279.9 1859.8,1277.0 1858.8,1274.1 1857.8,1271.2 1856.7,1268.3 1855.6,1265.4 1854.5,1262.5 1853.4,1259.7 1852.3,1256.9 1851.2,1254.0 1850.0,1251.2 1848.9,1248.4 1847.7,1245.6 1846.6,1242.9 1845.5,1240.1 1844.3,1237.3 1843.2,1234.6 1842.1,1231.8 1841.0,1229.1 1839.8,1226.3 1838.7,1223.5 1837.6,1220.8 1836.6,1218.0 1835.5,1215.2 1834.4,1212.5 1833.3,1209.7 1832.2,1206.9 1831.2,1204.1 1830.1,1201.3 1829.0,1198.5 1828.0,1195.8 1826.9,1193.0 1825.9,1190.2 1824.9,1187.4 1823.9,1184.7 1822.8,1181.9 1821.9,1179.1 1820.9,1176.3 1819.9,1173.6 1819.0,1170.8 1818.0,1168.0 1817.1,1165.1 1816.1,1162.3 1815.2,1159.5 1814.2,1156.6 1813.2,1153.8 1812.3,1150.9 1811.2,1148.0 1810.2,1145.1 1809.2,1142.2 1808.1,1139.3 1807.0,1136.4 1805.8,1133.5 1804.7,1130.6 1803.5,1127.8 1802.2,1124.9 1801.0,1122.1 1799.8,1119.3 1798.5,1116.5 1797.2,1113.8 1795.9,1111.0 1794.7,1108.3 1793.4,1105.6 1792.2,1102.9 1791.0,1100.3 1789.8,1097.7 1788.6,1095.0 1787.5,1092.4 1786.4,1089.8 1785.4,1087.2 1784.4,1084.5 1783.4,1081.9 1782.4,1079.2 1781.5,1076.5 1780.6,1073.7 1779.6,1070.9 1778.7,1068.1 1777.7,1065.3 1776.8,1062.5 1775.8,1059.6 1774.8,1056.7 1773.8,1053.8 1772.7,1051.0 1771.7,1048.1 1770.6,1045.2 1769.5,1042.4 1768.5,1039.6 1767.4,1036.7 1766.3,1033.9 1765.1,1031.1 1764.0,1028.3 1762.9,1025.5 1761.8,1022.7 1760.6,1019.9 1759.5,1017.0 1758.3,1014.2 1757.1,1011.4 1755.9,1008.6 1754.7,1005.8 1753.4,1003.0 1752.2,1000.2 1750.9,997.4 1749.6,994.6 1748.3,991.8 1746.9,989.0 1745.6,986.2 1744.2,983.5 1742.8,980.7 1741.4,978.0 1739.9,975.3 1738.5,972.6 1737.0,969.9 1735.6,967.2 1734.1,964.5 1732.6,961.8 1731.0,959.2 1729.5,956.5 1728.0,953.9 1726.4,951.2 1724.8,948.6 1723.3,946.0 1721.7,943.3 1720.1,940.7 1718.4,938.1 1716.8,935.6 1715.2,933.0 1713.5,930.4 1711.8,927.8 1710.2,925.3 1708.5,922.7 1706.8,920.2 1705.1,917.7 1703.4,915.2 1701.7,912.7 1700.0,910.2 1698.3,907.7 1696.6,905.2 1695.0,902.7 1693.3,900.2 1691.6,897.8 1690.0,895.3 1688.3,892.9 1686.7,890.4 1685.1,888.0 1683.5,885.5 1681.9,883.0 1680.4,880.6 1678.9,878.1 1677.4,875.6 1675.9,873.2 1674.4,870.7 1673.0,868.1 1671.5,865.6 1670.1,863.0 1668.6,860.4 1667.1,857.8 1665.7,855.2 1664.2,852.6 1662.6,849.9 1661.1,847.2 1659.5,844.5 1657.8,841.9 1656.2,839.2 1654.5,836.5 1652.7,833.9 1650.9,831.3 1649.1,828.7 1647.3,826.1 1645.4,823.6 1643.5,821.1 1641.6,818.6 1639.7,816.2 1637.8,813.8 1636.0,811.5 1634.1,809.1 1632.3,806.8 1630.5,804.5 1628.7,802.2 1626.9,800.0 1625.2,797.7 1623.5,795.4 1621.8,793.1 1620.1,790.8 1618.5,788.5 1616.8,786.1 1615.2,783.7 1613.5,781.3 1611.8,778.9 1610.1,776.4 1608.4,773.9 1606.6,771.4 1604.8,768.8 1603.0,766.3 1601.1,763.8 1599.2,761.3 1597.2,758.8 1595.2,756.3 1593.2,753.9 1591.2,751.5 1589.1,749.1 1587.0,746.8 1584.9,744.4 1582.8,742.2 1580.7,739.9 1578.6,737.6 1576.5,735.4 1574.4,733.2 1572.3,731.0 1570.2,728.8 1568.1,726.7 1566.0,724.5 1563.9,722.4 1561.7,720.2 1559.6,718.1 1557.5,715.9 1555.4,713.8 1553.3,711.7 1551.2,709.5 1549.2,707.4 1547.1,705.2 1545.0,703.1 1542.9,700.9 1540.8,698.8 1538.7,696.7 1536.6,694.5 1534.5,692.4 1532.4,690.2 1530.3,688.1 1528.1,685.9 1526.0,683.8 1523.9,681.6 1521.8,679.5 1519.7,677.3 1517.5,675.2 1515.4,673.0 1513.2,670.9 1511.1,668.7 1508.9,666.6 1506.7,664.5 1504.5,662.3 1502.3,660.2 1500.1,658.1 1497.9,656.0 1495.6,653.9 1493.4,651.8 1491.1,649.7 1488.9,647.7 1486.6,645.6 1484.3,643.6 1482.0,641.5 1479.7,639.5 1477.4,637.5 1475.1,635.5 1472.8,633.5 1470.5,631.5 1468.2,629.5 1465.8,627.6 1463.5,625.6 1461.2,623.6 1458.8,621.7 1456.4,619.8 1454.1,617.8 1451.7,615.9 1449.3,614.0 1446.9,612.1 1444.6,610.2 1442.2,608.4 1439.8,606.5 1437.4,604.6 1435.0,602.8 1432.7,600.9 1430.3,599.1 1427.9,597.2 1425.5,595.4 1423.1,593.5 1420.7,591.7 1418.3,589.9 1415.9,588.0 1413.5,586.2 1411.1,584.3 1408.7,582.5 1406.3,580.7 1403.9,578.9 1401.5,577.1 1399.0,575.2 1396.6,573.4 1394.2,571.6 1391.7,569.8 1389.3,568.1 1386.9,566.3 1384.5,564.5 1382.0,562.7 1379.6,560.9 1377.2,559.2 1374.8,557.4 1372.4,555.6 1369.9,553.8 1367.5,552.1 1365.1,550.3 1362.7,548.5 1360.3,546.7 1357.9,545.0 1355.5,543.2 1353.0,541.4 1350.6,539.6 1348.2,537.8 1345.8,536.1 1343.4,534.3 1340.9,532.5 1338.5,530.7 1336.0,528.9 1333.6,527.1 1331.1,525.4 1328.6,523.6 1326.1,521.8 1323.6,520.0 1321.0,518.3 1318.4,516.5 1315.8,514.8 1313.2,513.1 1310.5,511.4 1307.9,509.7 1305.2,508.1 1302.5,506.5 1299.8,504.9 1297.0,503.4 1294.3,501.9 1291.6,500.4 1288.9,498.9 1286.1,497.5 1283.4,496.0 1280.7,494.6 1278.0,493.2 1275.3,491.9 1272.6,490.5 1269.9,489.1 1267.2,487.8 1264.5,486.4 1261.8,485.1 1259.1,483.7 1256.5,482.4 1253.8,481.0 1251.1,479.7 1248.4,478.3 1245.7,477.0 1243.1,475.7 1240.4,474.3 1237.7,473.0 1235.0,471.6 1232.3,470.3 1229.7,468.9 1227.0,467.6 1224.3,466.2 1221.6,464.9 1218.9,463.5 1216.3,462.2 1213.6,460.8 1210.9,459.5 1208.2,458.1 1205.5,456.8 1202.7,455.4 1200.0,454.1 1197.3,452.8 1194.6,451.4 1191.8,450.1 1189.0,448.8 1186.3,447.5 1183.5,446.2 1180.7,444.9 1178.0,443.6 1175.2,442.4 1172.4,441.1 1169.6,439.9 1166.9,438.6 1164.1,437.4 1161.3,436.2 1158.6,435.0 1155.8,433.8 1153.0,432.6 1150.3,431.4 1147.5,430.2 1144.8,429.0 1142.0,427.8 1139.2,426.6 1136.5,425.4 1133.7,424.2 1130.9,423.0 1128.2,421.8 1125.4,420.6 1122.6,419.5 1119.8,418.3 1117.0,417.1 1114.2,416.0 1111.4,414.8 1108.7,413.6 1105.9,412.5 1103.1,411.3 1100.3,410.2 1097.4,409.0 1094.6,407.9 1091.8,406.8 1089.0,405.6 1086.1,404.5 1083.3,403.4 1080.5,402.3 1077.6,401.2 1074.7,400.1 1071.9,399.1 1069.0,398.0 1066.2,397.0 1063.3,395.9 1060.5,394.9 1057.6,393.9 1054.8,392.9 1052.0,391.9 1049.2,390.9 1046.5,389.9 1043.7,388.9 1041.0,387.9 1038.3,386.8 1035.6,385.8 1033.0,384.7 1030.3,383.6 1027.6,382.5 1024.8,381.4 1022.1,380.3 1019.3,379.2 1016.5,378.0 1013.7,376.9 1010.8,375.8 1007.9,374.7 1004.9,373.6 1002.0,372.5 999.0,371.5 996.1,370.6 993.1,369.7 990.2,368.8 987.3,367.9 984.5,367.0 981.6,366.2 978.8,365.3 976.0,364.5 973.2,363.6 970.4,362.7 967.7,361.8 964.9,360.9 962.1,360.0 959.3,359.1 956.4,358.2 953.6,357.2 950.8,356.3 948.0,355.4 945.2,354.4 942.4,353.5 939.6,352.5 936.8,351.6 934.1,350.6 931.4,349.7 928.7,348.7 926.0,347.7 923.4,346.6 920.7,345.6 918.1,344.5 915.5,343.4 912.9,342.3 910.4,341.1 907.8,339.9 905.2,338.7 902.6,337.5 900.0,336.2 897.3,334.9 894.7,333.5 891.9,332.2 889.2,330.9 886.4,329.5 883.6,328.2 880.8,326.9 877.9,325.6 875.0,324.3 872.1,323.1 869.2,321.9 866.2,320.8 863.3,319.7 860.4,318.6 857.4,317.5 854.5,316.5 851.6,315.5 848.7,314.5 845.8,313.6 842.9,312.6 840.0,311.7 837.2,310.7 834.3,309.8 831.5,308.9 828.6,308.0 825.8,307.0 822.9,306.1 820.1,305.2 817.2,304.2 814.4,303.3 811.5,302.4 808.6,301.4 805.7,300.5 802.8,299.6 799.9,298.7 797.0,297.8 794.1,296.9 791.2,296.0 788.2,295.1 785.3,294.2 782.4,293.4 779.4,292.5 776.5,291.7 773.5,290.9 770.6,290.1 767.6,289.3 764.7,288.5 761.7,287.7 758.8,287.0 755.9,286.2 753.0,285.5 750.1,284.8 747.2,284.0 744.4,283.3 741.5,282.6 738.7,281.8 736.0,281.1 733.2,280.3 730.5,279.5 727.8,278.7 725.1,277.8 722.4,276.9 719.7,276.0 717.0,275.1 714.3,274.1 711.5,273.1 708.8,272.1 706.0,271.1 703.2,270.0 700.4,269.0 697.6,267.9 694.8,266.8 691.9,265.8 689.0,264.7 686.1,263.7 683.2,262.7 680.3,261.7 677.4,260.7 674.5,259.7 671.6,258.8 668.7,257.9 665.8,256.9 663.0,256.0 660.1,255.1 657.2,254.2 654.4,253.3 651.5,252.4 648.6,251.5 645.7,250.6 642.8,249.7 639.8,248.8 636.9,248.0 633.9,247.1 630.9,246.3 627.9,245.5 624.9,244.7 621.9,244.0 618.9,243.3 615.9,242.6 612.9,241.9 610.0,241.3 607.1,240.6 604.3,240.0 601.4,239.3 598.6,238.7 595.8,238.0 593.0,237.3 590.3,236.6 587.5,235.9 584.7,235.1 582.0,234.3 579.2,233.5 576.4,232.6 573.5,231.8 570.6,230.9 567.7,230.1 564.8,229.2 561.8,228.4 558.8,227.5 555.8,226.7 552.8,226.0 549.7,225.2 546.6,224.5 543.6,223.8 540.5,223.2 537.5,222.6 534.4,222.0 531.4,221.5 528.4,221.0 525.4,220.5 522.4,220.0 519.4,219.5 516.4,219.0 513.5,218.5 510.5,218.0 507.6,217.5 504.6,217.0 501.6,216.5 498.7,216.0 495.7,215.6 492.7,215.1 489.7,214.6 486.7,214.1 483.7,213.7 480.8,213.2 477.8,212.7 474.8,212.3 471.8,211.8 468.8,211.4 465.8,211.0 462.8,210.5 459.8,210.1 456.8,209.7 453.8,209.3 450.8,208.8 447.9,208.4 444.9,208.0 441.9,207.6 438.9,207.2 435.9,206.8 432.9,206.4 430.0,206.0 427.0,205.6" fill="#f00"/>
<polygon points="423.5,187.9 426.5,188.2 429.4,188.4 432.4,188.6 435.4,188.9 438.3,189.1 441.3,189.4 444.2,189.6 447.1,189.9 450.0,190.2 452.8,190.5 455.7,190.8 458.5,191.1 461.3,191.4 464.1,191.8 466.8,192.2 469.6,192.6 472.3,193.1 475.1,193.5 477.9,194.0 480.6,194.6 483.4,195.1 486.2,195.7 489.0,196.4 491.9,197.0 494.8,197.6 497.7,198.3 500.6,198.9 503.5,199.6 506.5,200.3 509.4,200.9 512.4,201.6 515.4,202.2 518.4,202.9 521.3,203.5 524.3,204.1 527.3,204.8 530.2,205.4 533.2,206.0 536.1,206.6 539.0,207.2 542.0,207.8 544.9,208.4 547.8,209.0 550.8,209.6 553.7,210.2 556.7,210.8 559.6,211.4 562.6,212.0 565.6,212.6 568.6,213.2 571.6,213.8 574.6,214.4 577.5,214.9 580.5,215.5 583.5,216.0 586.4,216.6 589.3,217.1 592.3,217.7 595.2,218.2 598.1,218.8 601.0,219.3 604.0,219.9 606.9,220.4 609.9,221.0 612.9,221.5 615.9,222.1 618.9,222.6 621.9,223.1 625.0,223.6 628.0,224.1 630.9,224.6 633.9,225.1 636.8,225.6 639.7,226.0 642.6,226.5 645.4,227.0 648.2,227.5 651.0,228.0 653.8,228.5 656.6,229.1 659.3,229.7 662.1,230.3 664.9,230.9 667.7,231.6 670.5,232.3 673.3,233.0 676.2,233.7 679.0,234.4 681.9,235.1 684.8,235.9 687.7,236.6 690.6,237.4 693.6,238.1 696.5,238.9 699.5,239.6 702.4,240.3 705.4,241.0 708.4,241.8 711.4,242.5 714.4,243.2 717.3,243.8 720.3,244.5 723.3,245.2 726.2,245.8 729.2,246.5 732.1,247.1 735.0,247.8 737.9,248.4 740.8,249.0 743.7,249.7 746.6,250.3 749.4,251.0 752.3,251.7 755.1,252.3 758.0,253.0 760.8,253.7 763.7,254.4 766.6,255.2 769.4,255.9 772.3,256.6 775.2,257.4 778.0,258.1 780.9,258.9 783.8,259.6 786.7,260.4 789.6,261.1 792.5,261.9 795.4,262.7 798.3,263.4 801.2,264.2 804.1,264.9 807.0,265.7 809.8,266.5 812.7,267.2 815.6,268.0 818.4,268.8 821.3,269.6 824.2,270.3 827.0,271.1 829.9,271.9 832.8,272.7 835.7,273.5 838.5,274.3 841.4,275.1 844.3,276.0 847.2,276.8 850.1,277.6 853.0,278.4 855.9,279.2 858.8,280.0 861.7,280.8 864.6,281.6 867.4,282.4 870.3,283.2 873.2,284.0 876.1,284.8 879.0,285.6 881.9,286.4 884.8,287.2 887.8,288.0 890.7,288.8 893.7,289.6 896.6,290.3 899.5,291.1 902.5,291.9 905.4,292.6 908.3,293.3 911.1,294.1 914.0,294.8 916.8,295.6 919.6,296.3 922.4,297.1 925.2,297.9 928.0,298.6 930.8,299.5 933.6,300.3 936.3,301.1 939.1,302.0 941.9,302.8 944.7,303.7 947.5,304.6 950.3,305.5 953.1,306.4 955.9,307.3 958.7,308.3 961.5,309.2 964.3,310.1 967.1,311.1 969.9,312.0 972.7,313.0 975.5,314.0 978.4,314.9 981.2,315.9 984.0,316.9 986.8,317.9 989.7,318.9 992.5,319.8 995.4,320.8 998.3,321.8 1001.2,322.8 1004.2,323.8 1007.2,324.7 1010.2,325.7 1013.2,326.6 1016.3,327.5 1019.3,328.3 1022.4,329.2 1025.4,330.0 1028.4,330.7 1031.5,331.5 1034.5,332.2 1037.4,332.9 1040.4,333.6 1043.3,334.2 1046.1,334.9 1049.0,335.6 1051.8,336.2 1054.6,336.9 1057.4,337.6 1060.2,338.3 1063.0,339.1 1065.7,339.8 1068.5,340.6 1071.2,341.4 1074.0,342.2 1076.7,343.0 1079.4,343.9 1082.1,344.7 1084.8,345.6 1087.5,346.5 1090.3,347.5 1093.0,348.4 1095.7,349.4 1098.4,350.4 1101.2,351.4 1103.9,352.4 1106.7,353.4 1109.5,354.5 1112.3,355.5 1115.1,356.6 1117.9,357.6 1120.8,358.7 1123.6,359.7 1126.4,360.7 1129.2,361.8 1132.0,362.8 1134.7,363.8 1137.5,364.9 1140.2,365.9 1142.9,367.0 1145.7,368.0 1148.4,369.1 1151.1,370.2 1153.8,371.2 1156.5,372.4 1159.3,373.5 1162.0,374.6 1164.8,375.7 1167.5,376.9 1170.3,378.0 1173.1,379.2 1175.9,380.3 1178.7,381.5 1181.5,382.6 1184.3,383.7 1187.1,384.9 1189.9,386.0 1192.7,387.1 1195.5,388.2 1198.3,389.4 1201.1,390.5 1203.9,391.6 1206.6,392.7 1209.4,393.8 1212.2,394.9 1214.9,396.0 1217.7,397.1 1220.4,398.3 1223.2,399.4 1225.9,400.5 1228.7,401.6 1231.4,402.8 1234.1,403.9 1236.8,405.0 1239.5,406.2 1242.2,407.3 1244.9,408.5 1247.6,409.7 1250.2,410.9 1252.9,412.1 1255.6,413.3 1258.3,414.5 1261.0,415.7 1263.7,417.0 1266.3,418.2 1269.0,419.5 1271.7,420.7 1274.4,422.0 1277.0,423.2 1279.7,424.5 1282.3,425.8 1285.0,427.1 1287.6,428.4 1290.3,429.7 1292.9,431.0 1295.6,432.3 1298.2,433.6 1300.9,434.9 1303.5,436.3 1306.1,437.6 1308.8,439.0 1311.4,440.3 1314.1,441.7 1316.8,443.0 1319.5,444.4 1322.1,445.8 1324.8,447.2 1327.5,448.5 1330.3,449.9 1333.0,451.3 1335.7,452.6 1338.4,454.0 1341.2,455.3 1343.9,456.7 1346.7,458.0 1349.4,459.4 1352.2,460.7 1354.9,462.0 1357.6,463.3 1360.4,464.6 1363.1,465.9 1365.8,467.1 1368.5,468.4 1371.2,469.7 1373.9,471.0 1376.6,472.2 1379.3,473.5 1381.9,474.8 1384.6,476.1 1387.2,477.3 1389.9,478.6 1392.5,479.9 1395.1,481.2 1397.8,482.5 1400.4,483.9 1403.0,485.2 1405.6,486.5 1408.2,487.9 1410.8,489.2 1413.4,490.6 1416.0,492.0 1418.6,493.4 1421.2,494.7 1423.8,496.1 1426.3,497.5 1428.8,498.9 1431.4,500.3 1433.9,501.8 1436.4,503.2 1438.8,504.6 1441.3,506.1 1443.8,507.6 1446.3,509.1 1448.7,510.6 1451.2,512.1 1453.7,513.6 1456.1,515.2 1458.6,516.8 1461.1,518.4 1463.6,520.0 1466.1,521.6 1468.6,523.2 1471.1,524.8 1473.6,526.4 1476.1,528.1 1478.7,529.7 1481.2,531.3 1483.7,533.0 1486.3,534.6 1488.8,536.2 1491.3,537.8 1493.9,539.5 1496.4,541.1 1499.0,542.7 1501.5,544.3 1504.0,545.9 1506.6,547.5 1509.1,549.2 1511.6,550.8 1514.1,552.4 1516.6,554.0 1519.1,555.6 1521.6,557.1 1524.1,558.7 1526.5,560.4 1529.0,562.0 1531.4,563.6 1533.8,565.2 1536.2,566.8 1538.5,568.5 1540.9,570.1 1543.3,571.8 1545.6,573.5 1548.0,575.2 1550.3,576.9 1552.6,578.6 1555.0,580.4 1557.3,582.1 1559.6,583.9 1561.9,585.7 1564.3,587.5 1566.6,589.3 1568.9,591.1 1571.2,592.9 1573.5,594.8 1575.8,596.6 1578.1,598.5 1580.4,600.3 1582.7,602.1 1584.9,604.0 1587.1,605.8 1589.4,607.7 1591.6,609.6 1593.7,611.4 1595.9,613.3 1598.0,615.2 1600.1,617.1 1602.2,619.0 1604.2,620.9 1606.2,622.8 1608.3,624.8 1610.3,626.8 1612.3,628.8 1614.3,630.8 1616.3,632.9 1618.2,635.0 1620.2,637.1 1622.2,639.3 1624.3,641.4 1626.3,643.6 1628.3,645.8 1630.3,648.0 1632.3,650.2 1634.4,652.4 1636.4,654.6 1638.4,656.8 1640.4,659.0 1642.5,661.2 1644.5,663.4 1646.5,665.6 1648.5,667.8 1650.5,670.0 1652.4,672.2 1654.4,674.4 1656.4,676.6 1658.3,678.8 1660.2,681.0 1662.2,683.2 1664.1,685.4 1666.0,687.7 1667.8,689.9 1669.7,692.2 1671.6,694.4 1673.4,696.7 1675.3,699.0 1677.1,701.3 1678.9,703.6 1680.8,705.9 1682.6,708.2 1684.4,710.5 1686.2,712.8 1688.0,715.2 1689.7,717.5 1691.5,719.9 1693.3,722.2 1695.0,724.6 1696.8,727.0 1698.5,729.3 1700.2,731.7 1701.9,734.1 1703.6,736.5 1705.3,738.9 1707.0,741.3 1708.7,743.7 1710.3,746.2 1712.0,748.6 1713.6,751.0 1715.3,753.5 1716.9,756.0 1718.5,758.4 1720.2,760.9 1721.8,763.4 1723.3,765.8 1724.9,768.3 1726.5,770.8 1728.1,773.3 1729.6,775.8 1731.2,778.3 1732.7,780.9 1734.2,783.4 1735.7,785.9 1737.2,788.4 1738.7,791.0 1740.2,793.5 1741.6,796.1 1743.1,798.6 1744.5,801.2 1745.9,803.7 1747.3,806.3 1748.7,808.9 1750.1,811.5 1751.5,814.1 1752.8,816.7 1754.2,819.3 1755.6,821.9 1756.9,824.5 1758.3,827.2 1759.6,829.8 1761.0,832.5 1762.3,835.2 1763.7,837.8 1765.1,840.5 1766.4,843.2 1767.8,845.9 1769.1,848.5 1770.5,851.2 1771.8,853.9 1773.2,856.5 1774.5,859.2 1775.8,861.8 1777.1,864.5 1778.4,867.1 1779.7,869.7 1781.0,872.3 1782.2,875.0 1783.4,877.6 1784.6,880.2 1785.8,882.9 1787.0,885.5 1788.2,888.2 1789.3,890.8 1790.4,893.5 1791.6,896.2 1792.7,898.9 1793.8,901.6 1794.9,904.4 1796.0,907.1 1797.1,909.8 1798.2,912.6 1799.3,915.3 1800.4,918.1 1801.5,920.9 1802.7,923.7 1803.8,926.4 1804.9,929.2 1806.0,932.0 1807.1,934.8 1808.2,937.6 1809.3,940.4 1810.5,943.2 1811.6,946.0 1812.7,948.8 1813.9,951.6 1815.0,954.3 1816.1,957.1 1817.3,959.9 1818.4,962.7 1819.5,965.4 1820.6,968.2 1821.8,971.0 1822.9,973.7 1824.0,976.5 1825.1,979.2 1826.2,982.0 1827.2,984.7 1828.3,987.5 1829.4,990.3 1830.4,993.0 1831.5,995.8 1832.5,998.6 1833.5,1001.3 1834.5,1004.1 1835.6,1006.9 1836.6,1009.7 1837.6,1012.5 1838.6,1015.2 1839.5,1018.0 1840.5,1020.8 1841.5,1023.6 1842.5,1026.5 1843.4,1029.3 1844.4,1032.1 1845.4,1034.9 1846.3,1037.7 1847.3,1040.6 1848.2,1043.4 1849.2,1046.3 1850.2,1049.1 1851.1,1052.0 1852.1,1054.8 1853.1,1057.7 1854.1,1060.5 1855.1,1063.4 1856.1,1066.3 1857.1,1069.1 1858.1,1072.0 1859.1,1074.8 1860.2,1077.7 1861.2,1080.5 1862.2,1083.3 1863.3,1086.1 1864.3,1089.0 1865.3,1091.8 1866.3,1094.6 1867.4,1097.4 1868.4,1100.2 1869.4,1103.0 1870.4,1105.8 1871.4,1108.6 1872.3,1111.4 1873.3,1114.2 1874.2,1117.0 1875.2,1119.8 1876.1,1122.6 1877.0,1125.4 1877.9,1128.2 1878.8,1131.0 1879.7,1133.8 1880.5,1136.7 1881.4,1139.5 1882.2,1142.4 1883.1,1145.2 1883.9,1148.1 1884.7,1150.9 1885.6,1153.8 1886.4,1156.7 1887.2,1159.6 1888.0,1162.4 1888.9,1165.3 1889.7,1168.2 1890.5,1171.1 1891.3,1174.0 1892.2,1176.9 1893.0,1179.8 1893.8,1182.7 1894.6,1185.6 1895.5,1188.5 1896.3,1191.3 1897.1,1194.2 1897.9,1197.1 1898.8,1200.0 1899.6,1202.9 1900.4,1205.8 1901.2,1208.6 1902.0,1211.5 1902.8,1214.4 1903.6,1217.3 1904.4,1220.1 1905.2,1223.0 1906.0,1225.9 1906.8,1228.7 1907.6,1231.6 1908.3,1234.5 1909.0,1237.3 1909.8,1240.2 1910.5,1243.1 1911.2,1245.9 1911.9,1248.8 1912.5,1251.7 1913.2,1254.6 1913.9,1257.5 1914.5,1260.4 1915.1,1263.3 1915.8,1266.2 1916.4,1269.1 1917.0,1272.0 1917.6,1274.9 1918.3,1277.9 1918.9,1280.8 1919.5,1283.7 1920.1,1286.7 1920.8,1289.6 1921.4,1292.6 1922.0,1295.5 1922.7,1298.5 1923.3,1301.4 1923.9,1304.4 1924.6,1307.3 1925.3,1310.2 1925.9,1313.2 1926.6,1316.1 1927.3,1319.0 1927.9,1321.9 1928.6,1324.8 1929.2,1327.7 1929.9,1330.6 1930.5,1333.5 1931.1,1336.3 1931.7,1339.1 1932.3,1341.9 1932.9,1344.7 1933.4,1347.5 1933.9,1350.2 1934.4,1353.0 1934.9,1355.7 1935.3,1358.4 1935.8,1361.2 1936.2,1363.9 1936.6,1366.6 1957.4,1363.4 1956.9,1360.6 1956.5,1357.8 1956.0,1355.0 1955.6,1352.2 1955.1,1349.3 1954.6,1346.4 1954.0,1343.6 1953.5,1340.7 1952.9,1337.7 1952.3,1334.8 1951.7,1331.9 1951.0,1329.0 1950.4,1326.0 1949.7,1323.1 1949.1,1320.2 1948.4,1317.3 1947.7,1314.4 1947.1,1311.5 1946.4,1308.5 1945.7,1305.6 1945.1,1302.7 1944.4,1299.8 1943.8,1296.9 1943.2,1294.0 1942.5,1291.1 1941.9,1288.2 1941.3,1285.2 1940.7,1282.3 1940.0,1279.4 1939.4,1276.5 1938.8,1273.5 1938.2,1270.6 1937.6,1267.6 1936.9,1264.7 1936.3,1261.7 1935.7,1258.8 1935.0,1255.8 1934.4,1252.9 1933.7,1249.9 1933.0,1247.0 1932.4,1244.0 1931.7,1241.0 1931.0,1238.1 1930.2,1235.1 1929.5,1232.2 1928.8,1229.2 1928.0,1226.3 1927.3,1223.3 1926.5,1220.4 1925.7,1217.5 1924.9,1214.6 1924.2,1211.6 1923.4,1208.7 1922.6,1205.8 1921.8,1202.9 1921.0,1200.0 1920.2,1197.1 1919.4,1194.2 1918.6,1191.3 1917.8,1188.4 1917.0,1185.5 1916.3,1182.7 1915.5,1179.8 1914.7,1176.9 1913.9,1174.0 1913.1,1171.1 1912.4,1168.2 1911.6,1165.3 1910.8,1162.4 1910.1,1159.5 1909.3,1156.6 1908.5,1153.7 1907.8,1150.8 1907.0,1147.9 1906.3,1145.0 1905.5,1142.1 1904.7,1139.2 1903.9,1136.2 1903.1,1133.3 1902.3,1130.4 1901.5,1127.5 1900.7,1124.5 1899.9,1121.6 1899.1,1118.7 1898.2,1115.7 1897.3,1112.8 1896.5,1109.9 1895.6,1107.0 1894.7,1104.1 1893.8,1101.2 1892.9,1098.3 1892.0,1095.4 1891.1,1092.5 1890.1,1089.6 1889.2,1086.8 1888.3,1083.9 1887.4,1081.0 1886.4,1078.2 1885.5,1075.3 1884.6,1072.5 1883.7,1069.7 1882.8,1066.8 1881.9,1064.0 1881.0,1061.1 1880.1,1058.3 1879.2,1055.5 1878.4,1052.6 1877.5,1049.8 1876.6,1046.9 1875.8,1044.1 1874.9,1041.2 1874.1,1038.3 1873.2,1035.5 1872.4,1032.6 1871.5,1029.7 1870.6,1026.8 1869.8,1023.9 1868.9,1021.1 1868.0,1018.2 1867.1,1015.3 1866.2,1012.4 1865.3,1009.5 1864.4,1006.6 1863.5,1003.7 1862.6,1000.8 1861.6,997.9 1860.7,995.0 1859.7,992.1 1858.8,989.2 1857.8,986.4 1856.8,983.5 1855.8,980.6 1854.8,977.7 1853.8,974.9 1852.8,972.0 1851.8,969.1 1850.7,966.3 1849.7,963.4 1848.6,960.6 1847.6,957.8 1846.5,954.9 1845.5,952.1 1844.5,949.3 1843.4,946.5 1842.4,943.7 1841.3,940.9 1840.3,938.1 1839.2,935.3 1838.2,932.5 1837.2,929.7 1836.1,926.9 1835.1,924.0 1834.1,921.2 1833.0,918.4 1832.0,915.6 1831.0,912.8 1829.9,910.0 1828.9,907.1 1827.8,904.3 1826.7,901.5 1825.7,898.6 1824.6,895.8 1823.4,893.0 1822.3,890.1 1821.2,887.3 1820.0,884.4 1818.8,881.6 1817.6,878.8 1816.4,875.9 1815.2,873.1 1813.9,870.3 1812.6,867.4 1811.3,864.6 1810.0,861.8 1808.7,859.1 1807.3,856.3 1806.0,853.5 1804.6,850.8 1803.2,848.1 1801.9,845.3 1800.5,842.7 1799.1,840.0 1797.7,837.3 1796.4,834.6 1795.0,831.9 1793.6,829.3 1792.2,826.6 1790.9,824.0 1789.5,821.3 1788.1,818.6 1786.7,815.9 1785.3,813.3 1783.9,810.6 1782.5,807.9 1781.1,805.2 1779.7,802.5 1778.2,799.8 1776.8,797.1 1775.3,794.4 1773.9,791.7 1772.4,789.1 1770.9,786.4 1769.4,783.7 1767.8,781.1 1766.3,778.4 1764.7,775.8 1763.2,773.1 1761.6,770.5 1760.1,767.9 1758.5,765.3 1756.9,762.7 1755.3,760.1 1753.7,757.5 1752.1,754.9 1750.5,752.3 1748.9,749.7 1747.3,747.1 1745.7,744.5 1744.0,741.9 1742.4,739.4 1740.7,736.8 1739.1,734.2 1737.4,731.7 1735.7,729.1 1734.1,726.6 1732.4,724.0 1730.7,721.5 1729.0,719.0 1727.2,716.4 1725.5,713.9 1723.8,711.4 1722.0,708.9 1720.3,706.4 1718.5,703.9 1716.7,701.4 1714.9,698.9 1713.1,696.4 1711.3,694.0 1709.5,691.5 1707.7,689.1 1705.9,686.6 1704.0,684.2 1702.2,681.7 1700.3,679.3 1698.5,676.9 1696.6,674.5 1694.7,672.0 1692.8,669.6 1690.9,667.2 1689.0,664.8 1687.1,662.4 1685.1,660.0 1683.2,657.7 1681.3,655.3 1679.3,653.0 1677.4,650.6 1675.4,648.3 1673.4,646.0 1671.5,643.6 1669.5,641.3 1667.6,639.0 1665.6,636.7 1663.7,634.5 1661.7,632.2 1659.8,629.9 1657.8,627.6 1655.9,625.3 1653.9,623.0 1651.9,620.7 1650.0,618.4 1648.0,616.1 1646.0,613.8 1643.9,611.5 1641.9,609.2 1639.8,606.9 1637.7,604.6 1635.5,602.3 1633.4,600.0 1631.2,597.7 1628.9,595.5 1626.7,593.3 1624.4,591.1 1622.1,588.9 1619.8,586.7 1617.5,584.6 1615.1,582.5 1612.8,580.5 1610.5,578.4 1608.1,576.4 1605.8,574.4 1603.4,572.4 1601.1,570.5 1598.7,568.5 1596.4,566.6 1594.0,564.6 1591.6,562.7 1589.3,560.8 1586.9,558.9 1584.5,557.0 1582.1,555.1 1579.7,553.1 1577.3,551.3 1574.8,549.4 1572.4,547.5 1569.9,545.6 1567.4,543.7 1564.9,541.9 1562.4,540.1 1559.9,538.2 1557.4,536.4 1554.9,534.7 1552.3,532.9 1549.8,531.1 1547.3,529.4 1544.7,527.7 1542.2,526.0 1539.6,524.3 1537.1,522.6 1534.6,520.9 1532.1,519.2 1529.6,517.6 1527.0,515.9 1524.5,514.3 1522.0,512.6 1519.5,511.0 1517.0,509.3 1514.6,507.7 1512.1,506.0 1509.6,504.4 1507.1,502.7 1504.6,501.1 1502.1,499.4 1499.7,497.8 1497.2,496.1 1494.7,494.4 1492.2,492.7 1489.7,491.1 1487.2,489.4 1484.7,487.7 1482.1,486.0 1479.6,484.4 1477.0,482.7 1474.4,481.0 1471.8,479.3 1469.2,477.7 1466.6,476.0 1464.0,474.4 1461.3,472.8 1458.6,471.2 1455.9,469.6 1453.3,468.0 1450.6,466.5 1447.9,464.9 1445.2,463.4 1442.5,461.9 1439.7,460.5 1437.0,459.0 1434.3,457.6 1431.6,456.1 1428.9,454.7 1426.2,453.3 1423.5,451.9 1420.8,450.5 1418.0,449.1 1415.3,447.7 1412.6,446.3 1409.8,445.0 1407.1,443.6 1404.3,442.3 1401.6,440.9 1398.8,439.6 1396.1,438.3 1393.3,437.0 1390.6,435.7 1387.9,434.4 1385.1,433.1 1382.4,431.8 1379.7,430.6 1377.0,429.3 1374.3,428.0 1371.7,426.8 1369.0,425.5 1366.3,424.2 1363.7,422.9 1361.0,421.6 1358.4,420.3 1355.7,419.0 1353.1,417.7 1350.5,416.4 1347.8,415.1 1345.2,413.8 1342.5,412.4 1339.9,411.1 1337.2,409.7 1334.6,408.3 1331.9,407.0 1329.2,405.6 1326.5,404.2 1323.8,402.8 1321.1,401.5 1318.4,400.1 1315.7,398.7 1313.0,397.4 1310.3,396.0 1307.5,394.7 1304.8,393.3 1302.0,392.0 1299.3,390.7 1296.5,389.3 1293.8,388.0 1291.0,386.7 1288.3,385.4 1285.5,384.1 1282.8,382.8 1280.0,381.6 1277.2,380.3 1274.5,379.0 1271.7,377.8 1268.9,376.5 1266.1,375.2 1263.3,374.0 1260.5,372.8 1257.7,371.6 1254.9,370.3 1252.0,369.1 1249.2,367.9 1246.4,366.8 1243.6,365.6 1240.8,364.4 1238.0,363.3 1235.1,362.1 1232.3,361.0 1229.5,359.9 1226.7,358.7 1223.9,357.6 1221.1,356.5 1218.3,355.4 1215.6,354.3 1212.8,353.1 1210.0,352.0 1207.2,350.9 1204.4,349.8 1201.7,348.7 1198.9,347.6 1196.2,346.5 1193.4,345.3 1190.7,344.2 1187.9,343.1 1185.2,342.0 1182.4,340.8 1179.6,339.7 1176.8,338.5 1174.0,337.4 1171.2,336.2 1168.4,335.1 1165.6,333.9 1162.7,332.8 1159.9,331.7 1157.0,330.6 1154.1,329.5 1151.3,328.4 1148.4,327.3 1145.6,326.3 1142.7,325.2 1139.9,324.2 1137.1,323.1 1134.3,322.1 1131.5,321.1 1128.7,320.0 1125.9,319.0 1123.1,317.9 1120.3,316.9 1117.5,315.8 1114.6,314.8 1111.8,313.7 1108.9,312.7 1105.9,311.6 1103.0,310.6 1100.0,309.6 1097.1,308.6 1094.1,307.6 1091.1,306.7 1088.1,305.7 1085.1,304.8 1082.1,303.9 1079.1,303.1 1076.1,302.2 1073.1,301.4 1070.0,300.6 1067.0,299.8 1064.0,299.1 1061.0,298.3 1058.0,297.6 1055.1,296.9 1052.1,296.2 1049.2,295.6 1046.3,294.9 1043.5,294.2 1040.6,293.6 1037.9,292.9 1035.1,292.2 1032.4,291.5 1029.7,290.7 1027.0,290.0 1024.3,289.2 1021.6,288.4 1018.9,287.6 1016.2,286.7 1013.5,285.8 1010.8,284.9 1008.0,283.9 1005.2,283.0 1002.4,282.0 999.6,281.0 996.8,280.0 993.9,279.1 991.1,278.1 988.2,277.1 985.4,276.1 982.5,275.1 979.6,274.1 976.7,273.2 973.9,272.2 971.0,271.2 968.1,270.3 965.2,269.3 962.3,268.4 959.4,267.5 956.5,266.5 953.5,265.6 950.6,264.7 947.7,263.8 944.7,262.9 941.7,262.0 938.7,261.2 935.8,260.3 932.8,259.5 929.8,258.7 926.8,257.9 923.9,257.1 920.9,256.3 918.0,255.6 915.1,254.8 912.2,254.1 909.3,253.4 906.5,252.6 903.6,251.9 900.8,251.1 898.0,250.3 895.1,249.6 892.3,248.8 889.4,248.0 886.5,247.2 883.7,246.4 880.8,245.6 877.9,244.8 875.0,244.0 872.1,243.2 869.2,242.4 866.3,241.6 863.4,240.8 860.5,240.0 857.6,239.2 854.8,238.4 851.9,237.6 849.0,236.8 846.1,236.0 843.2,235.2 840.3,234.4 837.4,233.5 834.5,232.7 831.6,231.9 828.7,231.1 825.7,230.4 822.8,229.6 819.9,228.8 817.0,228.0 814.0,227.2 811.1,226.5 808.2,225.7 805.3,224.9 802.4,224.2 799.5,223.4 796.6,222.7 793.7,221.9 790.8,221.1 787.9,220.4 784.9,219.6 782.0,218.8 779.1,218.1 776.1,217.3 773.1,216.6 770.2,215.9 767.2,215.1 764.2,214.4 761.2,213.7 758.3,213.0 755.3,212.3 752.3,211.6 749.3,211.0 746.4,210.3 743.4,209.7 740.5,209.0 737.6,208.4 734.6,207.7 731.8,207.1 728.9,206.5 726.0,205.8 723.1,205.1 720.3,204.5 717.4,203.8 714.5,203.1 711.7,202.4 708.8,201.7 706.0,201.0 703.1,200.3 700.2,199.6 697.3,198.8 694.4,198.1 691.5,197.3 688.6,196.6 685.6,195.8 682.7,195.1 679.7,194.4 676.7,193.6 673.6,192.9 670.6,192.2 667.5,191.6 664.5,190.9 661.4,190.3 658.3,189.7 655.2,189.1 652.1,188.6 649.1,188.1 646.1,187.6 643.1,187.1 640.1,186.6 637.2,186.1 634.3,185.6 631.4,185.2 628.5,184.7 625.6,184.2 622.8,183.7 619.9,183.2 617.0,182.6 614.1,182.1 611.2,181.5 608.3,181.0 605.3,180.4 602.4,179.9 599.4,179.3 596.5,178.8 593.5,178.2 590.6,177.7 587.7,177.1 584.8,176.6 581.9,176.0 579.0,175.5 576.1,174.9 573.2,174.4 570.3,173.8 567.4,173.2 564.5,172.6 561.6,172.0 558.7,171.4 555.7,170.8 552.8,170.2 549.9,169.6 546.9,169.0 544.0,168.4 541.0,167.8 538.1,167.2 535.2,166.6 532.3,166.0 529.4,165.4 526.5,164.7 523.6,164.1 520.8,163.5 517.9,162.9 515.0,162.2 512.1,161.6 509.2,160.9 506.3,160.2 503.3,159.6 500.3,158.9 497.3,158.2 494.3,157.6 491.3,157.0 488.2,156.3 485.1,155.7 482.0,155.1 478.8,154.6 475.7,154.1 472.6,153.6 469.4,153.2 466.3,152.7 463.1,152.4 460.0,152.0 456.9,151.7 453.8,151.4 450.7,151.1 447.7,150.8 444.6,150.5 441.6,150.3 438.5,150.0 435.5,149.8 432.5,149.5 429.5,149.3 426.5,149.1" fill="#00f"/>
</g>
<rect x="505.8" y="855.8" width="126.5" height="33.4" fill="#000"/>
<rect x="505.8" y="964.7" width="126.5" height="32.8" fill="#f00"/>
<rect x="505.8" y="1081.7" width="126.5" height="33" fill="#00f"/>
<text x="258.43" y="143.40" font-size="129.76" font-weight="bold" textLength="139.74" lengthAdjust="spacingAndGlyphs" fill="#000" >25</text>
<text x="258.42" y="440.50" font-size="129.63" font-weight="bold" textLength="139.89" lengthAdjust="spacingAndGlyphs" fill="#000" >20</text>
<text x="261.04" y="766.59" font-size="131.19" font-weight="bold" textLength="137.03" lengthAdjust="spacingAndGlyphs" fill="#000" >15</text>
<text x="261.02" y="1071.20" font-size="129.63" font-weight="bold" textLength="137.19" lengthAdjust="spacingAndGlyphs" fill="#000" >10</text>
<text x="330.10" y="1393.31" font-size="128.74" font-weight="bold" textLength="68.40" lengthAdjust="spacingAndGlyphs" fill="#000" >0</text>
<text x="367.28" y="1501.22" font-size="126.95" font-weight="bold" textLength="168.55" lengthAdjust="spacingAndGlyphs" fill="#000" >0.0</text>
<text x="722.60" y="1501.22" font-size="126.95" font-weight="bold" textLength="197.27" lengthAdjust="spacingAndGlyphs" fill="#000" >0. 3</text>
<text x="1098.32" y="1501.22" font-size="126.95" font-weight="bold" textLength="200.56" lengthAdjust="spacingAndGlyphs" fill="#000" >0. 6</text>
<text x="1495.50" y="1501.22" font-size="126.95" font-weight="bold" textLength="201.33" lengthAdjust="spacingAndGlyphs" fill="#000" >0. 9</text>
<text x="1898.35" y="1501.98" font-size="129.88" font-weight="bold" textLength="166.37" lengthAdjust="spacingAndGlyphs" fill="#000" >1.2</text>
<text x="934.72" y="1691.50" font-size="134.20" font-weight="bold" textLength="650.55" lengthAdjust="spacingAndGlyphs">Voltage <tspan font-weight="normal">(</tspan>V<tspan font-weight="normal">)</tspan></text>
<text x="661.14" y="905.60" font-size="101.22" font-weight="bold" textLength="432.88" lengthAdjust="spacingAndGlyphs" fill="#000" >ZnO NWs</text>
<text x="669.97" y="1022.00" font-size="100.00" font-weight="bold" textLength="400.90" lengthAdjust="spacingAndGlyphs" fill="#000" >ZnO/TiO</text>
<text x="1067.55" y="1043.20" font-size="68.43" font-weight="bold" textLength="35.06" lengthAdjust="spacingAndGlyphs" fill="#000" >2</text>
<text x="1122.55" y="1022.00" font-size="100.00" font-weight="bold" textLength="205.93" lengthAdjust="spacingAndGlyphs" fill="#000" >NWs</text>
<text x="669.97" y="1135.00" font-size="99.85" font-weight="bold" textLength="400.90" lengthAdjust="spacingAndGlyphs" fill="#000" >ZnO/TiO</text>
<text x="1067.55" y="1156.60" font-size="68.43" font-weight="bold" textLength="35.06" lengthAdjust="spacingAndGlyphs" fill="#000" >2</text>
<text x="1124.11" y="1135.00" font-size="99.85" font-weight="bold" textLength="185.38" lengthAdjust="spacingAndGlyphs" fill="#000" >with</text>
<text x="671.73" y="1256.70" font-size="100.76" font-weight="bold" textLength="635.32" lengthAdjust="spacingAndGlyphs" fill="#000" >CdSe QD NWs</text>
<g transform="rotate(-90)"><text x="-1540" y="121.7" font-size="131" font-weight="bold" textLength="1527.3" lengthAdjust="spacingAndGlyphs">Current Density <tspan font-weight="normal">(</tspan>m<tspan font-weight="normal">A/</tspan>cm<tspan font-size="98.2" font-weight="normal" dy="-40">2</tspan><tspan dy="40" font-weight="normal">)</tspan></text></g>
</svg>
</body></html>
